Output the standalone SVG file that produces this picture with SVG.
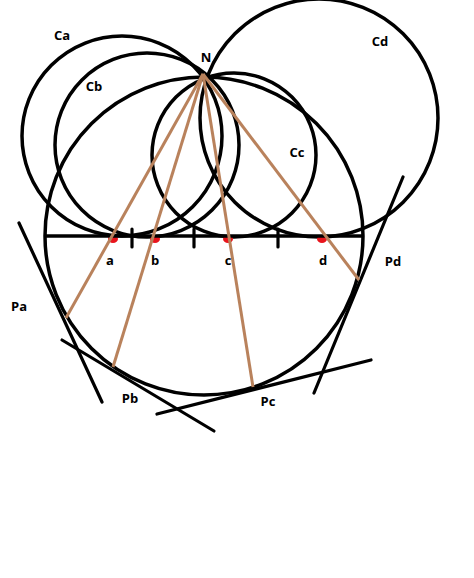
<svg xmlns="http://www.w3.org/2000/svg" width="474" height="578" viewBox="0 0 474 578">
<style>
.k{fill:none;stroke:#000;stroke-width:3.5}
.t{fill:none;stroke:#000;stroke-width:3.2;stroke-linecap:round}
.br{fill:none;stroke:#b9825c;stroke-width:3}
.dot{fill:#e8141c}
text{font-family:"Open Sans","Liberation Sans",Arial,sans-serif;font-weight:bold;font-size:13px;fill:#000;text-anchor:middle}
</style>
<rect width="474" height="578" fill="#fff"/>
<g id="circles">
<circle id="Ca" class="k" cx="122" cy="136" r="100"/>
<circle id="Cb" class="k" cx="147" cy="145" r="92"/>
<circle id="Cc" class="k" cx="234" cy="155" r="82"/>
<circle id="Cd" class="k" cx="319" cy="118" r="119"/>
<circle id="big" class="k" cx="204" cy="236" r="159"/>
</g>
<g id="tangents">
<line class="t" x1="19" y1="223" x2="102" y2="402"/>
<line class="t" x1="62" y1="340" x2="214" y2="431"/>
<line class="t" x1="157" y1="414" x2="371" y2="360"/>
<line class="t" x1="403" y1="177" x2="314" y2="393"/>
</g>
<g id="dots">
<ellipse class="dot" cx="113" cy="239" rx="5" ry="4"/>
<ellipse class="dot" cx="155" cy="239" rx="5" ry="4"/>
<ellipse class="dot" cx="228" cy="239" rx="5" ry="4"/>
<ellipse class="dot" cx="322" cy="239" rx="5" ry="4"/>
</g>
<g id="diameter">
<line class="k" x1="45" y1="236" x2="363" y2="236"/>
<line class="t" x1="132" y1="229" x2="132" y2="247"/>
<line class="t" x1="194" y1="229" x2="194" y2="247"/>
<line class="t" x1="278" y1="229" x2="278" y2="247"/>
</g>
<g id="connectors">
<line class="br" x1="203" y1="74" x2="66" y2="318"/>
<line class="br" x1="203" y1="74" x2="113" y2="367"/>
<line class="br" x1="203" y1="74" x2="253" y2="387"/>
<line class="br" x1="203" y1="74" x2="359" y2="280"/>
</g>
<g id="labels">
<text x="206" y="62">N</text>
<text x="62" y="40">Ca</text>
<text x="94" y="91">Cb</text>
<text x="297" y="157">Cc</text>
<text x="380" y="46">Cd</text>
<text x="110" y="265">a</text>
<text x="155" y="265">b</text>
<text x="228" y="265">c</text>
<text x="323" y="265">d</text>
<text x="19" y="311">Pa</text>
<text x="130" y="403">Pb</text>
<text x="268" y="406">Pc</text>
<text x="393" y="266">Pd</text>
</g>
</svg>
